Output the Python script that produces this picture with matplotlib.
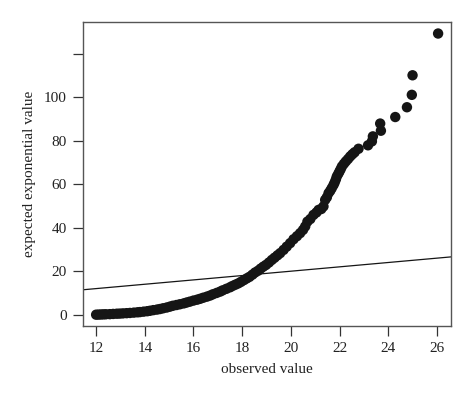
import numpy as np
import matplotlib.pyplot as plt

# observed vs expected exponential quantiles
observed = [12.0, 12.1, 12.2, 12.3, 12.4, 12.56, 12.7, 12.85, 12.97, 13.1, 13.25,
            13.39, 13.55, 13.7, 13.8, 13.95, 14.1, 14.21, 14.35, 14.5, 14.62,
            14.75, 14.9, 15.03, 15.15, 15.3, 15.44, 15.6, 15.72, 15.85, 16.0,
            16.15, 16.27, 16.4, 16.55, 16.68, 16.8, 16.95, 17.09, 17.2, 17.35,
            17.5, 17.6, 17.72, 17.84, 17.95, 18.07, 18.19, 18.3, 18.42, 18.53,
            18.65, 18.76, 18.87, 18.98, 19.1, 19.22, 19.33, 19.45, 19.56, 19.7,
            19.83, 19.97, 20.11, 20.25, 20.38, 20.5, 20.59, 20.68, 20.8, 20.93,
            21.05, 21.14, 21.25, 21.34, 21.41, 21.48, 21.55, 21.62, 21.68, 21.75,
            21.8, 21.85, 21.89, 21.95, 22.0, 22.05, 22.1, 22.18, 22.26, 22.35,
            22.44, 22.53, 22.62, 22.78, 23.17, 23.33, 23.37, 23.67, 23.70, 24.29,
            24.77, 24.97, 25.0, 26.05]
expected = [0.0, 0.05, 0.1, 0.15, 0.2, 0.25, 0.35, 0.45, 0.5, 0.6, 0.7,
            0.8, 0.95, 1.1, 1.2, 1.4, 1.6, 1.8, 2.1, 2.35, 2.6,
            2.95, 3.3, 3.7, 4.1, 4.45, 4.8, 5.2, 5.6, 6.0, 6.5,
            6.9, 7.3, 7.8, 8.3, 8.8, 9.4, 10.0, 10.6, 11.2, 11.9,
            12.6, 13.2, 13.8, 14.4, 15.1, 15.9, 16.7, 17.4, 18.4, 19.4,
            20.2, 21.2, 22.1, 22.9, 24.0, 25.2, 26.2, 27.3, 28.3, 29.8,
            31.3, 32.9, 34.7, 36.1, 37.5, 39.0, 40.6, 42.8, 44.0, 45.9,
            47.0, 48.2, 48.6, 49.8, 52.8, 54.0, 55.9, 57.0, 58.2, 59.6,
            60.8, 62.2, 63.6, 64.8, 65.9, 67.0, 68.2, 69.4, 70.5, 71.6,
            72.8, 73.8, 74.7, 76.3, 77.9, 79.7, 82.0, 87.9, 84.6, 90.9,
            95.4, 101.1, 110.1, 129.3]

xticks = [12, 14, 16, 18, 20, 22, 24, 26]
yticks = [0, 20, 40, 60, 80, 100, 120]
ytick_labels = ['0', '20', '40', '60', '80', '100', '']

plt.rcParams['font.family'] = ['Liberation Serif', 'DejaVu Serif']

fig = plt.figure(figsize=(4.74, 3.99), dpi=100)
ax = fig.add_axes([83 / 474, 1 - 326 / 399, (451 - 83) / 474, (326 - 22) / 399])

ax.scatter(observed, expected, s=56, color='#151515', edgecolors='none', zorder=3)

x0, x1 = 11.46, 26.58
ax.plot([x0, x1], [x0, x1], color='#151515', lw=0.9, zorder=2)

ax.set_xlim(x0, x1)
ax.set_ylim(-5.2, 134.6)
ax.set_xticks(xticks)
ax.set_yticks(yticks)
ax.set_yticklabels(ytick_labels)
for s in ax.spines.values():
    s.set_color('#555555')
    s.set_linewidth(1.0)
ax.tick_params(direction='out', length=7.5, width=0.9, color='#333333',
               labelsize=11, pad=4, labelcolor='#222222')
ax.set_xlabel('observed value', fontsize=11, color='#222222', labelpad=6)
ax.set_ylabel('expected exponential value', fontsize=11, color='#222222', labelpad=6)

fig.savefig('out.png', dpi=100)
